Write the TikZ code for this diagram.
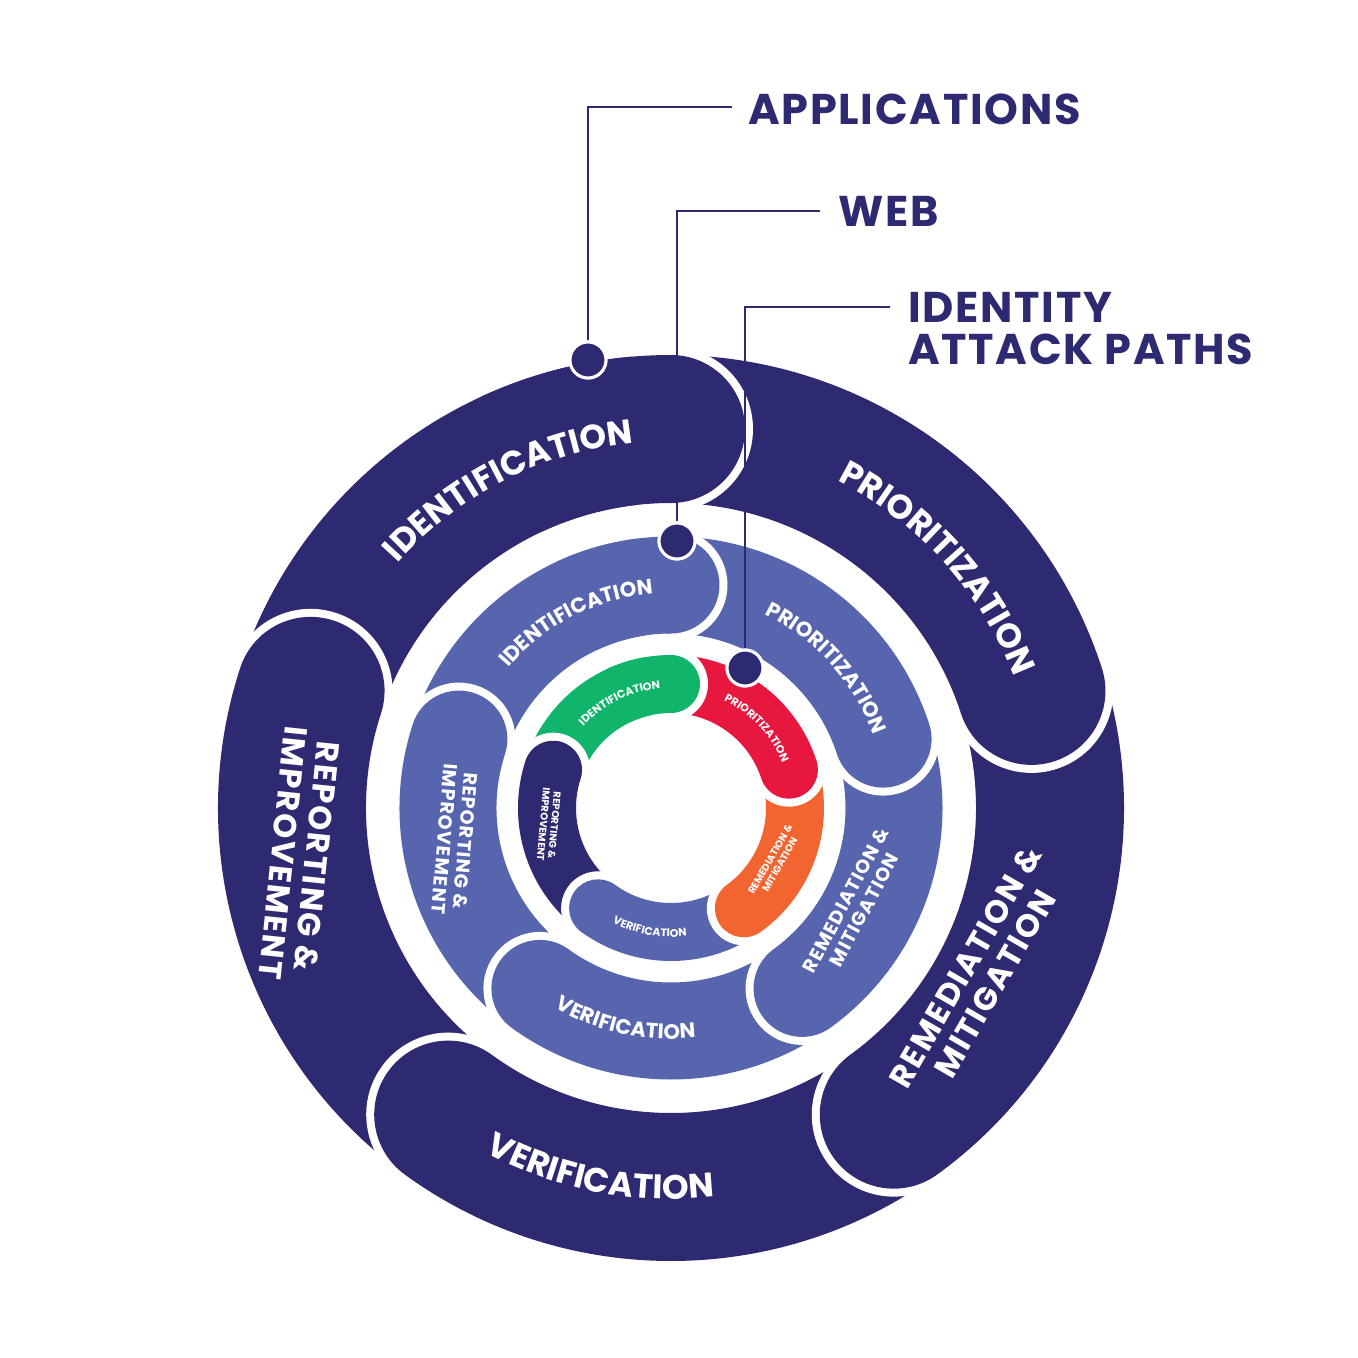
\documentclass[tikz,border=0pt]{standalone}
\usepackage{fontspec}
\setmainfont{Poppins}
\usetikzlibrary{decorations.text}
\definecolor{navy}{HTML}{2E2A72}
\definecolor{mid}{HTML}{5765AF}
\definecolor{igreen}{HTML}{10B46A}
\definecolor{ired}{HTML}{E8173F}
\definecolor{iorange}{HTML}{F26531}
\newcommand\myseg[5]{%
  \draw[white,line width=#2+16pt,line cap=round] (#3:#1) arc[start angle=#3,end angle=#4,radius=#1];
  \draw[#5,line width=#2,line cap=round] (#3:#1) arc[start angle=#3,end angle=#4,radius=#1];}
\newcommand\myring[8]{% radius width c1..c5 ; #8 half width
  \myseg{#1}{#2}{162}{90}{#3}
  \myseg{#1}{#2}{-126}{-198}{#7}
  \myseg{#1}{#2}{-54}{-126}{#6}
  \myseg{#1}{#2}{18}{-54}{#5}
  \myseg{#1}{#2}{90}{18}{#4}
  \fill[white] (90:#1) circle[radius=#8+8pt];
  \draw[#3,line width=#2,line cap=butt] (115:#1) arc[start angle=115,end angle=90,radius=#1];
  \fill[#3] (90:#1) circle[radius=#8];}
\newcommand\arctext[5]{% center angle, radius, direction(1 cw, -1 ccw), size, text
  \path[decorate,decoration={text along path,text align=center,
    text={|\fontsize{#4}{#4}\selectfont\bfseries\addfontfeature{LetterSpace=8}\color{white}|#5}}]
    ({#1+#3*70}:#2) arc[start angle={#1+#3*70},end angle={#1-#3*70},radius=#2];}
\begin{document}
\begin{tikzpicture}[x=1pt,y=1pt,
  lbl/.style={text=white,font=\bfseries\addfontfeature{LetterSpace=6},align=center,inner sep=0pt},
  call/.style={draw=navy,line width=2pt},
  dot/.style={circle,fill=navy,draw=white,line width=3pt,minimum size=36pt,inner sep=0pt}]
\useasboundingbox[fill=white] (-671,-550) rectangle (687,808);
% rings
\myring{379pt}{148pt}{navy}{navy}{navy}{navy}{navy}{74pt}
\myring{223pt}{97pt}{mid}{mid}{mid}{mid}{mid}{48.5pt}
\myring{124pt}{58pt}{igreen}{ired}{iorange}{mid}{navy}{29pt}
% outer labels
\arctext{117}{367pt}{1}{34pt}{IDENTIFICATION}
\arctext{42}{367pt}{1}{34pt}{PRIORITIZATION}
\arctext{259}{391pt}{-1}{34pt}{VERIFICATION}
\node[lbl,font=\fontsize{32pt}{34pt}\selectfont\bfseries\addfontfeature{LetterSpace=6},rotate=-96] (orep) at (-371,-47) {REPORTING \&\\IMPROVEMENT};
\node[lbl,font=\fontsize{32pt}{34pt}\selectfont\bfseries\addfontfeature{LetterSpace=6},rotate=60] (orem) at (309,-167) {REMEDIATION \&\\MITIGATION};
% middle labels
\arctext{117}{215pt}{1}{21pt}{IDENTIFICATION}
\arctext{42}{215pt}{1}{21pt}{PRIORITIZATION}
\arctext{258}{231pt}{-1}{21pt}{VERIFICATION}
\node[lbl,font=\fontsize{19pt}{21pt}\selectfont\bfseries\addfontfeature{LetterSpace=6},rotate=-95] (mrep) at (-216,-32) {REPORTING \&\\IMPROVEMENT};
\node[lbl,font=\fontsize{19pt}{21pt}\selectfont\bfseries\addfontfeature{LetterSpace=6},rotate=62] (mrem) at (184,-97) {REMEDIATION \&\\MITIGATION};
% inner labels
\arctext{116}{120pt}{1}{11pt}{IDENTIFICATION}
\arctext{43}{120pt}{1}{11pt}{PRIORITIZATION}
\arctext{260}{129pt}{-1}{11pt}{VERIFICATION}
\node[lbl,font=\fontsize{10pt}{11pt}\selectfont\bfseries,rotate=-95] (irep) at (-122,-17) {REPORTING \&\\IMPROVEMENT};
\node[lbl,font=\fontsize{10pt}{11pt}\selectfont\bfseries,rotate=60] (irem) at (104,-54) {REMEDIATION \&\\MITIGATION};
% callouts
\coordinate (ca) at (-83,701); \coordinate (cae) at (61,701);
\coordinate (cw) at (6,597); \coordinate (cwe) at (149,597);
\coordinate (ci) at (74,501); \coordinate (cie) at (219,501);
\node[dot] (da) at (-83,448) {};
\node[dot] (dw) at (6,267) {};
\node[dot] (di) at (74,140) {};
\draw[call] (da) -- (ca) -- (cae);
\draw[call] (dw) -- (cw) -- (cwe);
\draw[call] (di) -- (ci) -- (cie);
\node[dot] at (da) {}; \node[dot] at (dw) {}; \node[dot] at (di) {};
\tikzset{ct/.style={text=navy,anchor=west,inner sep=0pt,align=left,
  font=\fontsize{43pt}{42pt}\selectfont\bfseries\addfontfeature{LetterSpace=4}}}
\node[ct] (tapp) at (77,699) {APPLICATIONS};
\node[ct] (tweb) at (167,597) {WEB};
\node[ct] (tid) at (237,479) {IDENTITY\\ATTACK PATHS};
\end{tikzpicture}
\end{document}
